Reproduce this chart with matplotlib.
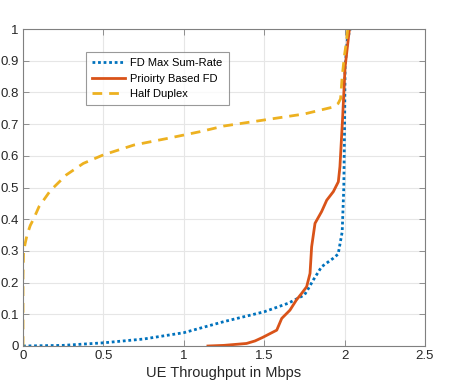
import matplotlib
matplotlib.use("Agg")
import matplotlib.pyplot as plt

plt.rcParams['font.family'] = ['Liberation Sans', 'DejaVu Sans']

fd_x = [0, 0.25, 0.5, 0.75, 1.0, 1.25, 1.5, 1.65, 1.75, 1.77, 1.805, 1.857, 1.93, 1.96, 1.985, 1.995, 2.0, 2.003, 2.017, 2.035]
fd_y = [0, 0.002, 0.01, 0.022, 0.042, 0.077, 0.108, 0.135, 0.161, 0.177, 0.208, 0.25, 0.277, 0.29, 0.36, 0.5, 0.7, 0.88, 0.965, 1.0]

pr_x = [1.15, 1.25, 1.39, 1.443, 1.49, 1.578, 1.609, 1.66, 1.70, 1.733, 1.764, 1.785, 1.795, 1.816, 1.857, 1.889, 1.93, 1.961, 1.971, 1.988, 2.003, 2.03]
pr_y = [0, 0.002, 0.008, 0.016, 0.027, 0.05, 0.087, 0.113, 0.145, 0.166, 0.187, 0.229, 0.313, 0.387, 0.424, 0.46, 0.487, 0.518, 0.566, 0.723, 0.88, 1.0]

hd_x = [0, 0, 0.003, 0.012, 0.025, 0.045, 0.065, 0.1, 0.17, 0.27, 0.375, 0.5, 0.69, 0.9, 1.1, 1.25, 1.5, 1.75, 1.93, 1.96, 1.975, 1.985, 2.0, 2.01, 2.02]
hd_y = [0, 0.22, 0.29, 0.32, 0.35, 0.38, 0.40, 0.44, 0.49, 0.54, 0.576, 0.603, 0.634, 0.655, 0.676, 0.694, 0.713, 0.732, 0.754, 0.765, 0.78, 0.85, 0.92, 0.955, 1.0]

labels = ["FD Max Sum-Rate", "Prioirty Based FD", "Half Duplex"]
xticks = [0, 0.5, 1, 1.5, 2, 2.5]
xticklabels = ["0", "0.5", "1", "1.5", "2", "2.5"]
yticks = [0, 0.1, 0.2, 0.3, 0.4, 0.5, 0.6, 0.7, 0.8, 0.9, 1]
yticklabels = ["0", "0.1", "0.2", "0.3", "0.4", "0.5", "0.6", "0.7", "0.8", "0.9", "1"]

W, H = 474, 386
fig = plt.figure(figsize=(W/100, H/100), dpi=100)
ax = fig.add_axes([23/W, 1-346/H, (425-23)/W, (346-29)/H])

ax.plot(fd_x, fd_y, color='#0072BD', lw=2.0, ls=(0, (1, 1)), label=labels[0])
ax.plot(pr_x, pr_y, color='#D95319', lw=2.0, ls='-', label=labels[1])
ax.plot(hd_x, hd_y, color='#EDB120', lw=2.0, ls=(0, (3.5, 2.5)), label=labels[2])

ax.set_xlim(0, 2.5)
ax.set_ylim(0, 1)
ax.set_xticks(xticks)
ax.set_xticklabels(xticklabels)
ax.set_yticks(yticks)
ax.set_yticklabels(yticklabels)
ax.grid(True, color='#e6e6e6', lw=0.8)
ax.set_axisbelow(True)
for s in ax.spines.values():
    s.set_color('#808080')
    s.set_linewidth(0.8)
ax.tick_params(direction='in', length=4, width=0.6, colors='#808080', labelcolor='#262626',
               labelsize=9.5, top=True, right=True, pad=3)
ax.set_xlabel("UE Throughput in Mbps", fontsize=10.5, color='#262626', labelpad=3)

leg = ax.legend(loc='upper left', bbox_to_anchor=((86-23)/(425-23), (346-52)/(346-29)),
                fontsize=8, frameon=True, fancybox=False, edgecolor='#808080',
                handlelength=3.0, handletextpad=0.45, borderpad=0.55, labelspacing=0.5,
                borderaxespad=0)
leg.get_frame().set_linewidth(0.8)

fig.savefig("out.png", dpi=100)
